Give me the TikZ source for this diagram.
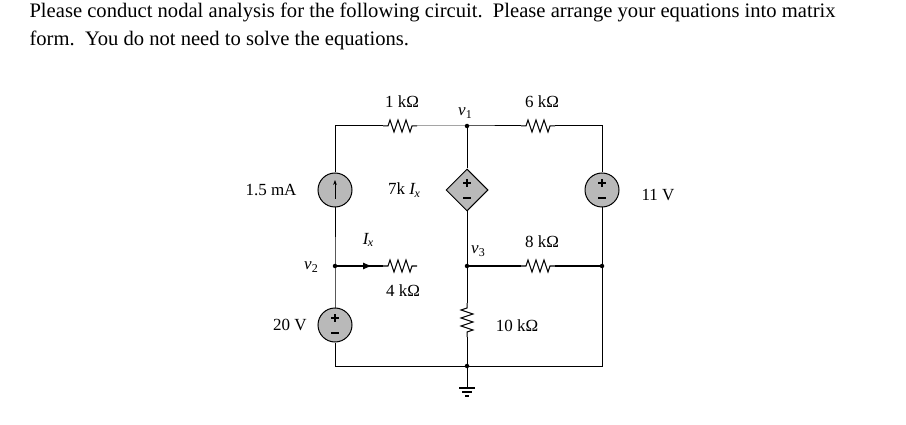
\documentclass[tikz,border=0pt]{standalone}
\usepackage{fontspec}
\setmainfont{Liberation Serif}
\usetikzlibrary{shapes.geometric,arrows.meta}
\tikzset{
 wire/.style={line width=1pt},
 src/.style={circle,draw,fill=gray!55,minimum size=34pt,inner sep=0pt,line width=1pt},
 dsrc/.style={diamond,draw,fill=gray!55,minimum size=42pt,inner sep=0pt,line width=1pt},
 dot/.style={circle,fill,inner sep=0pt,minimum size=4.5pt},
 lbl/.style={font=\fontsize{17}{19}\selectfont},
 res/.pic={\draw[wire] (-17,0)--(-12,0)--(-10,-6)--(-6,6)--(-2,-6)--(2,6)--(6,-6)--(10,6)--(12,0)--(17,0);},
 vres/.pic={\draw[wire] (0,-17)--(0,-12)--(-6,-10)--(6,-6)--(-6,-2)--(6,2)--(-6,6)--(6,10)--(0,12)--(0,17);}
}
\newcommand{\ix}{\textit{I\kern-0.5pt\raisebox{-0.35ex}{\fontsize{12}{12}\selectfont x}}}
\begin{document}
\begin{tikzpicture}[x=1pt,y=-1pt]
\useasboundingbox (0,0) rectangle (906,425);
\node[anchor=west,font=\fontsize{20.6}{24}\selectfont] (t1) at (26,12) {Please conduct nodal analysis for the following circuit.\ \ Please arrange your equations into matrix};
\node[anchor=west,font=\fontsize{20.6}{24}\selectfont] (t2) at (26,40) {form.\ \ You do not need to solve the equations.};
\coordinate (tl) at (335,126); \coordinate (v1) at (467,126); \coordinate (tr) at (602,126);
\coordinate (v2) at (335,266); \coordinate (v3) at (467,266); \coordinate (mr) at (602,266);
\coordinate (bl) at (335,366); \coordinate (bm) at (467,366); \coordinate (br) at (602,366);
\node[src] (cs) at (335,190) {};
\draw[wire,-{Stealth[length=5pt]}] (335,199)--(335,180);
\node[dsrc] (ds) at (467,190) {};
\node[src] (vs11) at (602,190) {};
\node[src] (vs20) at (335,325) {};
\foreach \xx/\yy in {467/190,602/190,335/325}{
 \draw[line width=1.3pt] (\xx-4,\yy-7)--(\xx+4,\yy-7) (\xx,\yy-11)--(\xx,\yy-3);
 \draw[line width=1.3pt] (\xx-4,\yy+8)--(\xx+4,\yy+8);}
\pic at (400,126) {res}; \pic at (538,126) {res};
\pic at (400,266) {res}; \pic at (538,266) {res};
\pic at (467,320) {vres};
\draw[wire] (cs.north)--(tl)--(383,126) (417,126)--(v1)--(521,126) (555,126)--(tr)--(vs11.north);
\draw[wire] (v1)--(ds.north) (ds.south)--(v3)--(521,266) (555,266)--(mr);
\draw[wire] (vs11.south)--(br)--(bl)--(vs20.south) (vs20.north)--(v2)--(cs.south);
\draw[wire] (v2)--(383,266) (v3)--(467,303) (467,337)--(bm);
\draw[wire,-{Latex[length=9pt,width=7pt]}] (v2)--(372,266);
\draw[wire] (bm)--(467,388);
\draw[line width=1.2pt] (459,388)--(475,388) (462,392)--(472,392) (465,396)--(469,396);
\foreach \p in {v1,v2,v3,mr,bm} \node[dot] at (\p) {};
\node[lbl] (l1) at (402,102) {1 kΩ};
\node[lbl] (l2) at (465,113) {\textit{v}\raisebox{-0.3ex}{\fontsize{12}{12}\selectfont 1}};
\node[lbl] (l3) at (542,102) {6 kΩ};
\node[lbl] (l4) at (271,190) {1.5 mA};
\node[lbl] (l5) at (404,190) {7k \ix};
\node[lbl] (l6) at (658,195) {11 V};
\node[lbl] (l7) at (368,240) {\ix};
\node[lbl] (l8) at (478,251) {\textit{v}\raisebox{-0.3ex}{\fontsize{12}{12}\selectfont 3}};
\node[lbl] (l9) at (542,242) {8 kΩ};
\node[lbl] (l10) at (311,267) {\textit{v}\raisebox{-0.3ex}{\fontsize{12}{12}\selectfont 2}};
\node[lbl] (l11) at (403,291) {4 kΩ};
\node[lbl] (l12) at (290,325) {20 V};
\node[lbl] (l13) at (517,326) {10 kΩ};
\end{tikzpicture}
\end{document}
